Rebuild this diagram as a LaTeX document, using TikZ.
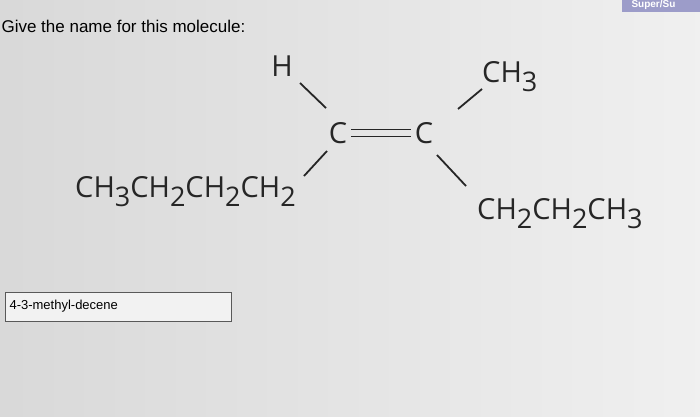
\documentclass[tikz,border=0pt]{standalone}
\usepackage{fontspec}
\setmainfont{Liberation Sans}
\newfontfamily\chem{Open Sans}
\newcommand\chsub[1]{\raisebox{-0.32em}{\fontsize{27}{27}\selectfont #1}}
\begin{document}
\begin{tikzpicture}[x=1pt,y=-1pt,
  lbl/.style={font=\chem\fontsize{29}{32}\selectfont,inner sep=0pt,text=black!85},
  bond/.style={line width=1.8pt,black!85}]
\shade[left color=gray!30,right color=gray!12] (0,0) rectangle (700,416);
\useasboundingbox (0,0) rectangle (700,416);
\fill[blue!30!gray!60] (622,0) rectangle (700,12);
\node[anchor=west,text=white,font=\bfseries\fontsize{10}{10}\selectfont] (tab) at (628,5) {Super/Su};
\node[anchor=west,font=\fontsize{17}{19}\selectfont] (title) at (-2,26) {Give the name for this molecule:};
\node[lbl] (H) at (282,66) {H};
\node[lbl] (c1) at (338,133) {C};
\node[lbl] (c2) at (424,133) {C};
\node[lbl,anchor=base west] (me) at (482,82) {CH\chsub{3}};
\node[lbl,anchor=base west] (left) at (75,197) {CH\chsub{3}CH\chsub{2}CH\chsub{2}CH\chsub{2}};
\node[lbl,anchor=base west] (right) at (477,219) {CH\chsub{2}CH\chsub{2}CH\chsub{3}};
\coordinate (a1) at (300,83); \coordinate (a2) at (326,108);
\coordinate (b1) at (458,109); \coordinate (b2) at (482,89);
\coordinate (d1) at (437,155); \coordinate (d2) at (466,186);
\coordinate (e1) at (304,176); \coordinate (e2) at (327,151);
\draw[bond] (a1) -- (a2);
\draw[bond] (b1) -- (b2);
\draw[bond] (d1) -- (d2);
\draw[bond] (e1) -- (e2);
\draw[bond] ([yshift=-3.5pt]c1.east) ++(4,0) -- ([yshift=-3.5pt,xshift=-4pt]c2.west);
\draw[bond] ([yshift=3.5pt]c1.east) ++(4,0) -- ([yshift=3.5pt,xshift=-4pt]c2.west);
\draw[fill=white!90!gray,draw=gray!70!black] (5,292) rectangle (231,321);
\node[anchor=west,font=\fontsize{13}{14}\selectfont] (ans) at (6,306) {4-3-methyl-decene};
\end{tikzpicture}
\end{document}
